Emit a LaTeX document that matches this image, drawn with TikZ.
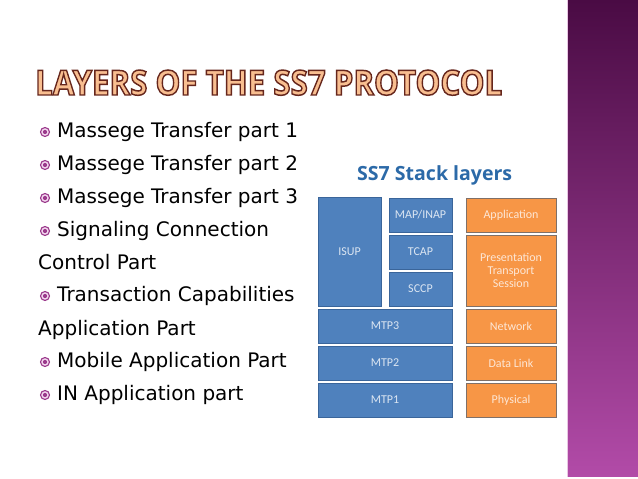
\documentclass[tikz,border=0pt]{standalone}
\usepackage{fontspec}
\usepackage{graphicx}
\setmainfont{DejaVu Sans}
\newfontfamily\titlefont{Open Sans}
\newfontfamily\boxfont{Carlito}
\newfontfamily\headfont{Open Sans}
\definecolor{barTop}{HTML}{4A0B44}
\definecolor{barBot}{HTML}{B24BA8}
\definecolor{barEdge}{HTML}{E9C6E4}
\definecolor{bulletPurple}{HTML}{9B3A8C}
\definecolor{bulletPink}{HTML}{F2D6EE}
\definecolor{boxBlue}{HTML}{4F81BD}
\definecolor{boxBlueEdge}{HTML}{3A659A}
\definecolor{boxOrange}{HTML}{F79646}
\definecolor{boxOrangeEdge}{HTML}{7F7068}
\definecolor{blueText}{HTML}{DCE6F2}
\definecolor{orangeText}{HTML}{FDE7D6}
\definecolor{headBlue}{HTML}{2C6AA8}
\definecolor{titleFill}{HTML}{F8BE90}
\newcommand\outlinedtext[1]{\special{pdf:literal direct 2 Tr 1.5 w 0.40 0.15 0.11 RG}#1\special{pdf:literal direct 0 Tr}}
\tikzset{
  blk/.style={draw=boxBlueEdge, fill=boxBlue, line width=0.8pt, text=blueText,
    font=\boxfont\fontsize{12}{13}\selectfont, inner sep=0pt, align=center},
  ork/.style={draw=boxOrangeEdge, fill=boxOrange, line width=0.8pt, text=orangeText,
    font=\boxfont\fontsize{12}{13}\selectfont, inner sep=0pt, align=center},
  bul/.style={circle, draw=bulletPurple, fill=bulletPink, line width=1.1pt,
    minimum size=9pt, inner sep=0pt,
    path picture={\fill[bulletPurple] (path picture bounding box.center) circle (2.1pt);}},
  item/.style={anchor=base west, inner sep=0pt, font=\fontsize{20}{24}\selectfont, text=black}
}
\begin{document}
\begin{tikzpicture}[x=1pt,y=1pt]
\useasboundingbox (0,0) rectangle (638,479);
\fill[white] (0,0) rectangle (638,479);
% purple side bar
\shade[top color=barTop, bottom color=barBot] (568,2) rectangle (638,479);
\draw[barEdge, line width=1pt] (567.5,2) -- (567.5,479);
% title
\node[anchor=base west, inner sep=0pt] (title) at (35,384)
  {\resizebox{467pt}{25pt}{\titlefont\bfseries\fontsize{35}{40}\selectfont\color{titleFill}\outlinedtext{LAYERS OF THE SS7 PROTOCOL}}};
% bullets
\node[bul] (b1) at (45,347) {};
\node[bul] (b2) at (45,314) {};
\node[bul] (b3) at (45,281) {};
\node[bul] (b4) at (45,248) {};
\node[bul] (b5) at (45,183) {};
\node[bul] (b6) at (45,117) {};
\node[bul] (b7) at (45,84) {};
\node[item] (t1) at (57,341) {Massege Transfer part 1};
\node[item] (t2) at (57,308) {Massege Transfer part 2};
\node[item] (t3) at (57,275) {Massege Transfer part 3};
\node[item] (t4) at (57,242) {Signaling Connection};
\node[item] (t4b) at (38,209) {Control Part};
\node[item] (t5) at (57,177) {Transaction Capabilities};
\node[item] (t5b) at (38,143) {Application Part};
\node[item] (t6) at (57,111) {Mobile Application Part};
\node[item] (t7) at (57,78) {IN Application part};
% diagram heading
\node[anchor=base west, inner sep=0pt, text=headBlue] (head) at (357,298)
  {\resizebox{155pt}{!}{\headfont\bfseries\fontsize{18}{20}\selectfont SS7 Stack layers}};
% SS7 stack
\node[blk, minimum width=63pt, minimum height=109pt] (isup) at (349.5,227.5) {ISUP};
\node[blk, minimum width=63pt, minimum height=34pt] (map) at (420.5,264) {MAP/INAP};
\node[blk, minimum width=63pt, minimum height=34pt] (tcap) at (420.5,227) {TCAP};
\node[blk, minimum width=63pt, minimum height=34pt] (sccp) at (420.5,190) {SCCP};
\node[blk, minimum width=134pt, minimum height=34pt] (mtp3) at (385,153) {MTP3};
\node[blk, minimum width=134pt, minimum height=34pt] (mtp2) at (385,116) {MTP2};
\node[blk, minimum width=134pt, minimum height=34pt] (mtp1) at (385,79) {MTP1};
% OSI layers
\node[ork, minimum width=90pt, minimum height=34pt] (app) at (511,264) {Application};
\node[ork, minimum width=90pt, minimum height=71pt] (pts) at (511,208.5) {Presentation\\Transport\\Session};
\node[ork, minimum width=90pt, minimum height=34pt] (net) at (511,153) {Network};
\node[ork, minimum width=90pt, minimum height=34pt] (dl) at (511,116) {Data Link};
\node[ork, minimum width=90pt, minimum height=34pt] (phy) at (511,79) {Physical};
\end{tikzpicture}
\end{document}
